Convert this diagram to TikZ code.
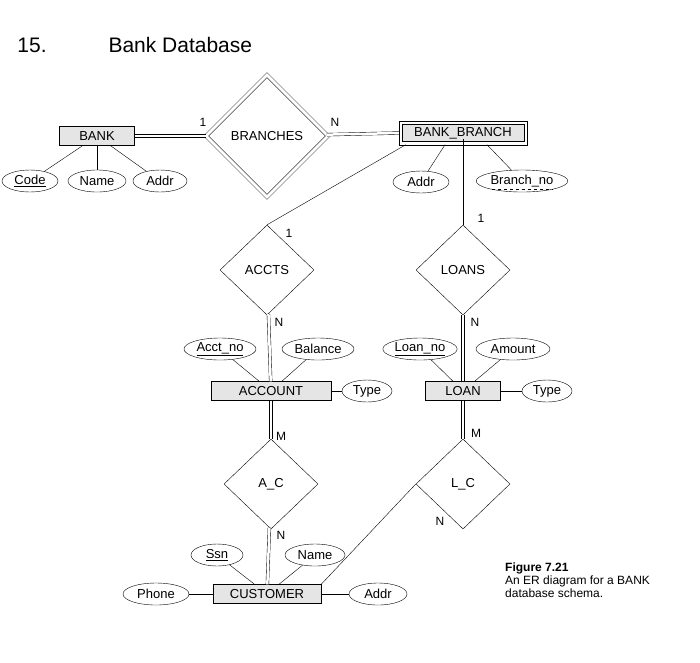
\documentclass[tikz,border=0pt]{standalone}
\usepackage{fontspec}
\setmainfont{Liberation Sans}
\usetikzlibrary{shapes.geometric}
\begin{document}
\begin{tikzpicture}[x=1pt,y=-1pt,
  every node/.style={font=\fontsize{13}{15}\selectfont},
  ent/.style={draw,fill=gray!20,minimum height=19pt,inner sep=2pt},
  att/.style={draw,ellipse,minimum height=22pt,inner sep=1pt},
  rel/.style={draw,diamond,inner sep=0pt},
  dbl/.style={double,double distance=2.5pt},
  lab/.style={font=\fontsize{12}{14}\selectfont}]
\useasboundingbox (0,0) rectangle (700,662);
\node[font=\fontsize{21}{24}\selectfont] (n15) at (32,45) {15.};
\node[font=\fontsize{21}{24}\selectfont,anchor=west] (title) at (105,45) {Bank Database};
% entities
\node[ent,minimum width=122pt,minimum height=17pt] (bb) at (463,133) {BANK\_BRANCH};
\draw ([shift={(-3,-3)}]bb.north west) rectangle ([shift={(3,3)}]bb.south east);
\node[ent,minimum width=75pt] (bank) at (97,136) {BANK};
\node[ent,minimum width=120pt] (acc) at (271,391) {ACCOUNT};
\node[ent,minimum width=75pt] (loan) at (463,391) {LOAN};
\node[ent,minimum width=108pt] (cust) at (267,594) {CUSTOMER};
% relationships
\node[rel,double,double distance=3pt,minimum width=122pt,minimum height=122pt] (br) at (267,136) {BRANCHES};
\node[rel,minimum width=94pt,minimum height=90pt] (accts) at (267,270) {ACCTS};
\node[rel,minimum width=94pt,minimum height=90pt] (loans) at (463,270) {LOANS};
\node[rel,minimum width=94pt,minimum height=90pt] (ac) at (271,484) {A\_C};
\node[rel,minimum width=94pt,minimum height=90pt] (lc) at (463,484) {L\_C};
% attributes
\node[att,minimum width=56pt] (code) at (30,181) {\underline{Code}};
\node[att,minimum width=58pt] (bname) at (97,181) {Name};
\node[att,minimum width=54pt] (baddr) at (160,181) {Addr};
\node[att,minimum width=56pt] (bbaddr) at (421,182) {Addr};
\node[att,minimum width=78pt] (bno) at (522,181) {Branch\_no};
\draw[dashed] (492,189) -- (553,189);
\node[att,minimum width=72pt] (acno) at (220,349) {\underline{Acct\_no}};
\node[att,minimum width=72pt] (bal) at (318,349) {Balance};
\node[att,minimum width=50pt] (atype) at (367,391) {Type};
\node[att,minimum width=72pt] (lno) at (420,349) {\underline{Loan\_no}};
\node[att,minimum width=74pt] (amt) at (513,349) {Amount};
\node[att,minimum width=50pt] (ltype) at (547,391) {Type};
\node[att,minimum width=52pt] (ssn) at (217,555) {\underline{Ssn}};
\node[att,minimum width=60pt] (cname) at (315,555) {Name};
\node[att,minimum width=66pt] (phone) at (156,594) {Phone};
\node[att,minimum width=58pt] (caddr) at (378,594) {Addr};
% attribute links
\foreach \a in {code,bname,baddr} \draw (\a) -- (bank);
\draw (bbaddr) -- ([shift={(-18,3)}]bb.south);
\draw (bno) -- ([shift={(24,3)}]bb.south);
\foreach \a in {acno,bal,atype} \draw (\a) -- (acc);
\foreach \a in {lno,amt,ltype} \draw (\a) -- (loan);
\foreach \a in {ssn,cname,phone,caddr} \draw (\a) -- (cust);
% relationships links
\draw[dbl] (bank) -- (br);
\draw[dbl] (br) -- ([xshift=-3]bb.west);
\coordinate (bbs) at ([shift={(4,3)}]bb.south west);
\draw (bbs) -- (accts.north);
\draw ([yshift=3]bb.south) -- (loans.north);
\draw[dbl] (accts) -- (acc);
\draw[dbl] (loans) -- (loan);
\draw[dbl] (acc) -- (ac);
\draw[dbl] (loan) -- (lc);
\draw[dbl] (ac) -- (cust);
\draw (lc.west) -- (cust.north east);
% cardinalities
\node[lab] (c1) at (203,122) {1};
\node[lab] (c2) at (335,122) {N};
\node[lab] (c3) at (289,233) {1};
\node[lab] (c4) at (481,218) {1};
\node[lab] (c5) at (279,322) {N};
\node[lab] (c6) at (475,322) {N};
\node[lab] (c7) at (281,436) {M};
\node[lab] (c8) at (476,433) {M};
\node[lab] (c9) at (281,535) {N};
\node[lab] (c10) at (440,521) {N};
% caption
\node[anchor=north west,align=left,inner sep=0pt,font=\fontsize{12}{13}\selectfont] (cap) at (505,563)
 {\textbf{Figure 7.21}\\An ER diagram for a BANK\\database schema.};
\end{tikzpicture}
\end{document}
